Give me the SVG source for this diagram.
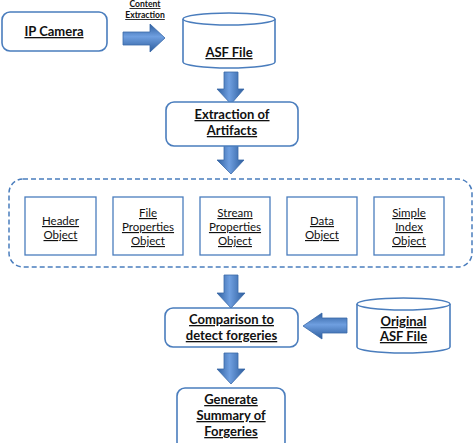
<svg xmlns="http://www.w3.org/2000/svg" width="474" height="443" viewBox="0 0 474 443">
<defs>
<linearGradient id="gv" x1="0" y1="0" x2="1" y2="0">
<stop offset="0" stop-color="#2f5f9f"/><stop offset="0.45" stop-color="#6f9fe0"/><stop offset="1" stop-color="#2c5c9c"/>
</linearGradient>
<linearGradient id="gh" x1="0" y1="0" x2="0" y2="1">
<stop offset="0" stop-color="#2f5f9f"/><stop offset="0.45" stop-color="#6f9fe0"/><stop offset="1" stop-color="#2c5c9c"/>
</linearGradient>
<style>
.box{fill:#fff;stroke:#4a7dbd;stroke-width:1.6}
.obj{fill:#fff;stroke:#4a7dbd;stroke-width:1.3}
.dash{fill:none;stroke:#4a7dbd;stroke-width:1.5;stroke-dasharray:5 3}
.av{fill:url(#gv);stroke:#3a6aa8;stroke-width:0.8}
.ah{fill:url(#gh);stroke:#3a6aa8;stroke-width:0.8}
text{font-family:Lato,"Liberation Sans",sans-serif;fill:#111;text-anchor:middle;text-decoration:underline}
.t{font-size:13px;font-weight:bold}
.s{font-size:11.5px}
.c{font-size:8.6px;font-weight:bold}
</style>
</defs>
<rect width="474" height="443" fill="#fff"/>
<g id="connectors">
<path class="ah" d="M123,32 H150 V24 L165,38 L150,52 V45 H123 Z"/>
<path class="av" d="M224,72 H238 V89 H244 L231,104 L217,89 H224 Z"/>
<path class="av" d="M224,145 H238 V160 H244 L231,174 L217,160 H224 Z"/>
<path class="av" d="M224,275 H238 V293 H245 L231,308 L217,293 H224 Z"/>
<path class="ah" d="M347,318 H322 V313 L303,326 L322,339 V333 H347 Z"/>
<path class="av" d="M224,353 H238 V369 H245 L231,384 L217,369 H224 Z"/>
<text class="c" x="145" y="7">Content</text>
<text class="c" x="145" y="18">Extraction</text>
</g>
<g id="ipcamera">
<rect class="box" x="2" y="12" width="105" height="39" rx="8"/>
<text class="t" x="54" y="36">IP Camera</text>
</g>
<g id="asffile">
<path class="box" d="M183,19 V62 A46,6 0 0 0 275,62 V19"/>
<ellipse class="box" cx="229" cy="19" rx="46" ry="6"/>
<text class="t" x="229" y="57">ASF File</text>
</g>
<g id="extraction">
<rect class="box" x="166" y="102" width="132" height="44" rx="8"/>
<text class="t" x="232" y="119">Extraction of</text>
<text class="t" x="232" y="135">Artifacts</text>
</g>
<g id="group">
<rect class="dash" x="9" y="179" width="463" height="88" rx="14"/>
</g>
<g id="header">
<rect class="obj" x="25" y="197" width="71" height="58"/>
<text class="s" x="60.5" y="225">Header</text>
<text class="s" x="60.5" y="239">Object</text>
</g>
<g id="fileprops">
<rect class="obj" x="113" y="197" width="70" height="58"/>
<text class="s" x="148" y="217">File</text>
<text class="s" x="148" y="231">Properties</text>
<text class="s" x="148" y="245">Object</text>
</g>
<g id="streamprops">
<rect class="obj" x="200" y="197" width="70" height="58"/>
<text class="s" x="235" y="217">Stream</text>
<text class="s" x="235" y="231">Properties</text>
<text class="s" x="235" y="245">Object</text>
</g>
<g id="data">
<rect class="obj" x="287" y="197" width="70" height="58"/>
<text class="s" x="322" y="225">Data</text>
<text class="s" x="322" y="239">Object</text>
</g>
<g id="simpleindex">
<rect class="obj" x="374" y="197" width="70" height="58"/>
<text class="s" x="409" y="217">Simple</text>
<text class="s" x="409" y="231">Index</text>
<text class="s" x="409" y="245">Object</text>
</g>
<g id="comparison">
<rect class="box" x="165" y="308" width="133" height="39" rx="8"/>
<text class="t" x="231.5" y="324">Comparison to</text>
<text class="t" x="231.5" y="340">detect forgeries</text>
</g>
<g id="original">
<path class="box" d="M357,304 V347 A46.5,6 0 0 0 450,347 V304"/>
<ellipse class="box" cx="403.5" cy="304" rx="46.5" ry="6"/>
<text class="t" x="403.5" y="326">Original</text>
<text class="t" x="403.5" y="341">ASF File</text>
</g>
<g id="generate">
<rect class="box" x="177" y="388" width="108" height="62" rx="8"/>
<text class="t" x="231" y="404">Generate</text>
<text class="t" x="231" y="420">Summary of</text>
<text class="t" x="231" y="436">Forgeries</text>
</g>
</svg>
